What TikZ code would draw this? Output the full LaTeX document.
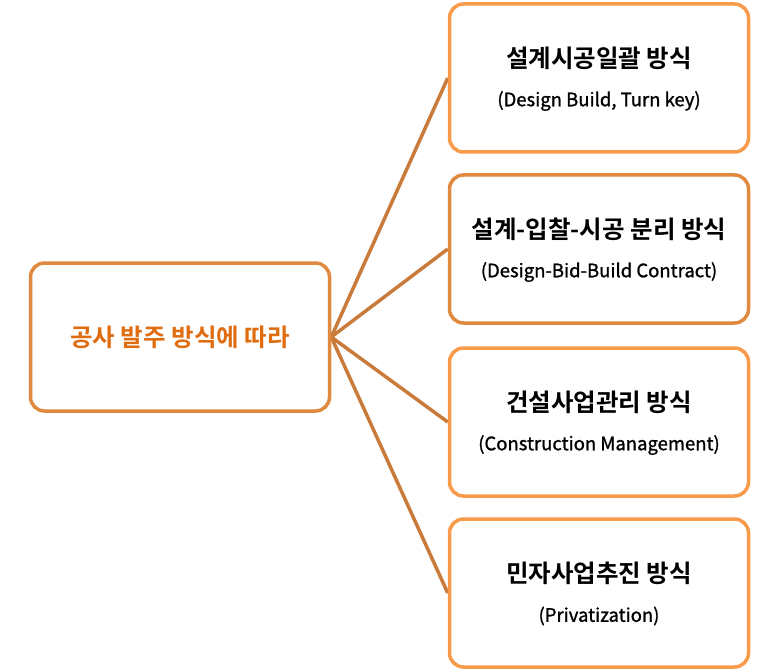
\documentclass[tikz,border=0pt]{standalone}
\usepackage{fontspec}
\usetikzlibrary{backgrounds}
\newfontfamily\kr[FakeBold=1.2]{Noto Sans CJK KR}
\newfontfamily\krb{Noto Sans CJK KR Bold}
\definecolor{boxdark}{HTML}{E08A40}
\definecolor{boxlight}{HTML}{F79A4A}
\definecolor{linec}{HTML}{C87B3A}
\definecolor{txtorange}{HTML}{E06C10}
\begin{document}
\begin{tikzpicture}[x=1pt,y=-1pt,
  boxstyle/.style={draw, line width=3.5pt, rounded corners=14pt, minimum width=299pt, minimum height=148pt, inner sep=0pt, fill=white},
  conn/.style={draw=linec, line width=3.5pt},
  ttl/.style={font=\krb\fontsize{24.5}{28}\selectfont, text=black},
  sub/.style={font=\kr\fontsize{18.5}{22}\selectfont, text=black}]
\useasboundingbox (0,0) rectangle (779,671);
\node[boxstyle, draw=boxdark] (root) at (180,337) {};
\node[font=\krb\fontsize{24.5}{28}\selectfont, text=txtorange] (rootl) at (root.center) {공사 발주 방식에 따라};
\node[boxstyle, draw=boxlight] (b1) at (599,78) {};
\node[boxstyle, draw=boxdark] (b2) at (599,249) {};
\node[boxstyle, draw=boxlight] (b3) at (599,422) {};
\node[boxstyle, draw=boxlight] (b4) at (599,593) {};
\begin{scope}[on background layer]
\foreach \b in {b1,b2,b3,b4} \draw[conn] (root.east) -- (\b.west);
\end{scope}
\node[ttl] (t1) at ([yshift=20pt]b1.center) {설계시공일괄 방식};
\node[sub] (s1) at ([yshift=-23pt]b1.center) {(Design Build, Turn key)};
\node[ttl] (t2) at ([yshift=20pt]b2.center) {설계-입찰-시공 분리 방식};
\node[sub] (s2) at ([yshift=-23pt]b2.center) {(Design-Bid-Build Contract)};
\node[ttl] (t3) at ([yshift=20pt]b3.center) {건설사업관리 방식};
\node[sub] (s3) at ([yshift=-23pt]b3.center) {(Construction Management)};
\node[ttl] (t4) at ([yshift=20pt]b4.center) {민자사업추진 방식};
\node[sub] (s4) at ([yshift=-23pt]b4.center) {(Privatization)};
\end{tikzpicture}
\end{document}
